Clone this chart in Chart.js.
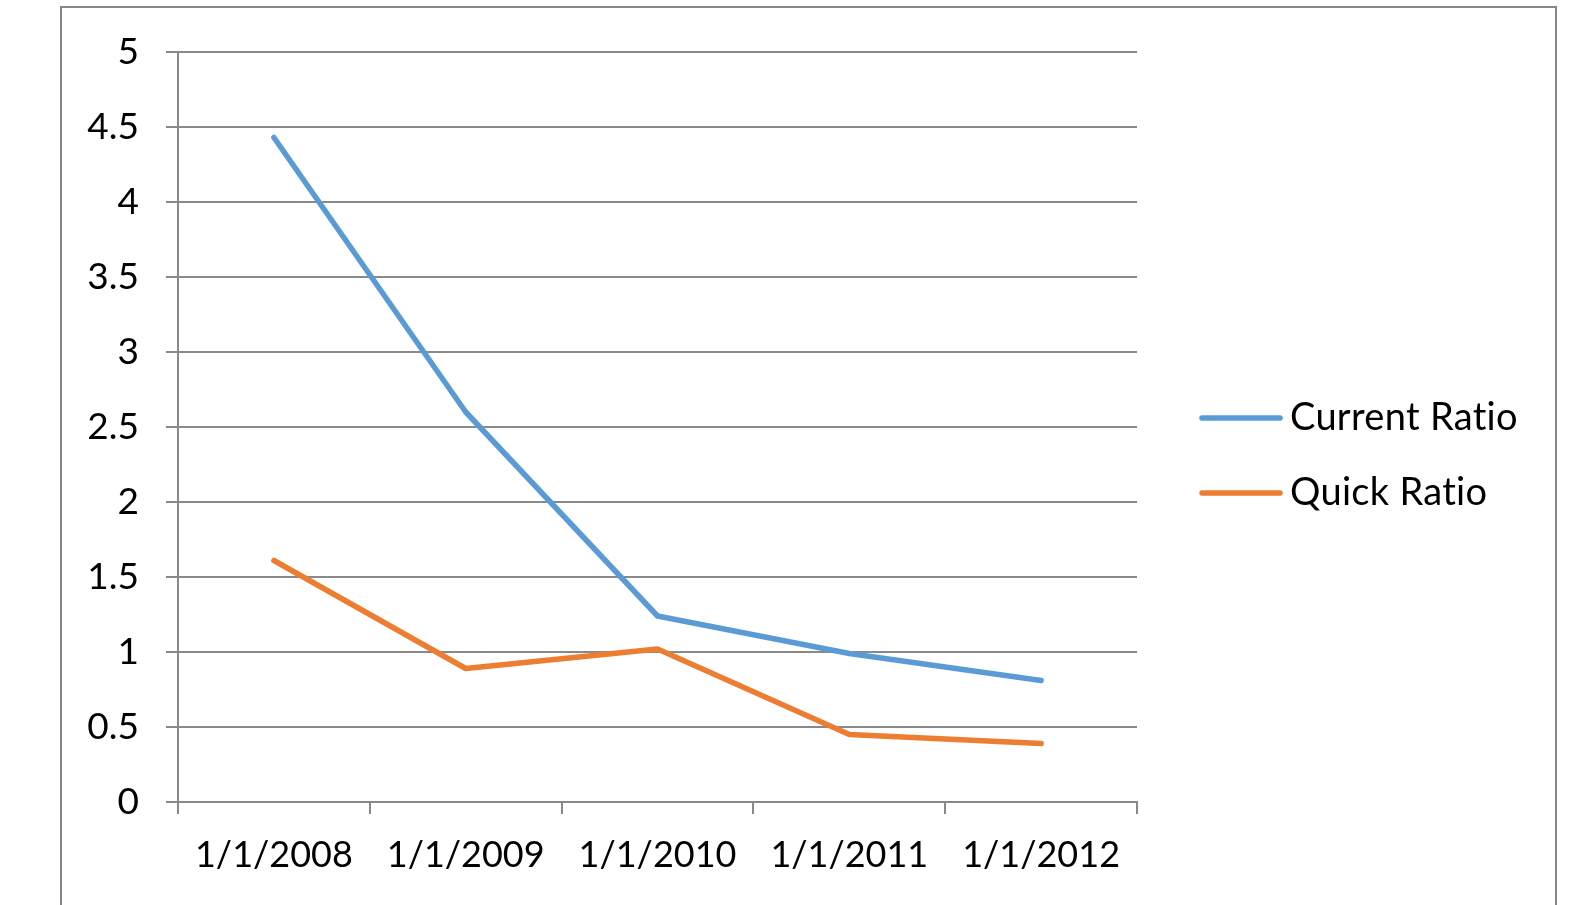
<html>
  <head>
    <meta charset="UTF-8">
    <title>Current Ratio vs Quick Ratio</title>
    <style>
  html, body {
    margin: 0;
    padding: 0;
    background: #ffffff;
    overflow: hidden;
  }
  .frame {
    position: absolute;
    left: 60px;
    top: 6px;
    width: 1497px;
    height: 920px;
    border: 2px solid #878787;
    box-sizing: border-box;
  }
  .wrap {
    position: absolute;
    left: 0;
    top: 0;
    width: 1570px;
    height: 905px;
  }
</style>
    <script src="https://cdn.jsdelivr.net/npm/chart.js"></script>
  </head>
  <body>
    <div class="frame"></div>
    <div class="wrap">
      <canvas id="ratioChart"></canvas>
    </div>
    <script>
    // data
    const years = ['1/1/2008', '1/1/2009', '1/1/2010', '1/1/2011', '1/1/2012'];
    const currentRatio = [4.43, 2.60, 1.24, 0.99, 0.81];
    const quickRatio = [1.61, 0.89, 1.02, 0.45, 0.39];
    const seriesNames = ['Current Ratio', 'Quick Ratio'];

    const FONT = 'Lato, "Open Sans", sans-serif';
    const gridColor = '#898989';

    // legend drawn at the right, next to the plot
    const sideLegend = {
      id: 'sideLegend',
      afterDraw(chart) {
        const ctx = chart.ctx;
        const rows = [418, 493];
        ctx.save();
        chart.data.datasets.forEach((ds, i) => {
          const y = rows[i];
          ctx.strokeStyle = ds.borderColor;
          ctx.lineWidth = 5.5;
          ctx.lineCap = 'round';
          ctx.beginPath();
          ctx.moveTo(1202, y);
          ctx.lineTo(1280, y);
          ctx.stroke();
          ctx.fillStyle = '#000000';
          ctx.font = '38px ' + FONT;
          ctx.letterSpacing = '0.3px';
          ctx.textBaseline = 'middle';
          ctx.textAlign = 'left';
          ctx.fillText(ds.label, 1290, y);
        });
        ctx.restore();
      }
    };

    window.onload = function() {
      new Chart(document.getElementById('ratioChart').getContext('2d'), {
        type: 'line',
        data: {
          labels: years,
          datasets: [{
            label: seriesNames[0],
            data: currentRatio,
            borderColor: '#5B9BD5',
            borderWidth: 5.5,
            pointRadius: 0,
            borderCapStyle: 'round',
            borderJoinStyle: 'round',
            tension: 0
          }, {
            label: seriesNames[1],
            data: quickRatio,
            borderColor: '#ED7D31',
            borderWidth: 5.5,
            pointRadius: 0,
            borderCapStyle: 'round',
            borderJoinStyle: 'round',
            tension: 0
          }]
        },
        options: {
          responsive: true,
          maintainAspectRatio: false,
          animation: false,
          layout: {
            padding: { left: 0, top: 52, right: 433, bottom: 0 }
          },
          plugins: {
            legend: { display: false },
            tooltip: { enabled: false }
          },
          scales: {
            x: {
              offset: true,
              grid: {
                offset: true,
                drawOnChartArea: false,
                drawTicks: true,
                tickLength: 12,
                color: gridColor,
                lineWidth: 2
              },
              border: { display: true, color: gridColor, width: 2 },
              ticks: {
                color: '#000000',
                font: { family: FONT, size: 36 },
                padding: 20,
                maxRotation: 0
              },
              afterFit(scale) { scale.height = 103; }
            },
            y: {
              min: 0,
              max: 5,
              ticks: {
                stepSize: 0.5,
                color: '#000000',
                font: { family: FONT, size: 37 },
                padding: 27,
                callback: (v) => String(Number(v))
              },
              grid: {
                color: gridColor,
                lineWidth: 2,
                tickLength: 12
              },
              border: { display: true, color: gridColor, width: 2 },
              afterFit(scale) { scale.width = 178; }
            }
          }
        },
        plugins: [sideLegend]
      });
    };
  </script>
  </body></html>
